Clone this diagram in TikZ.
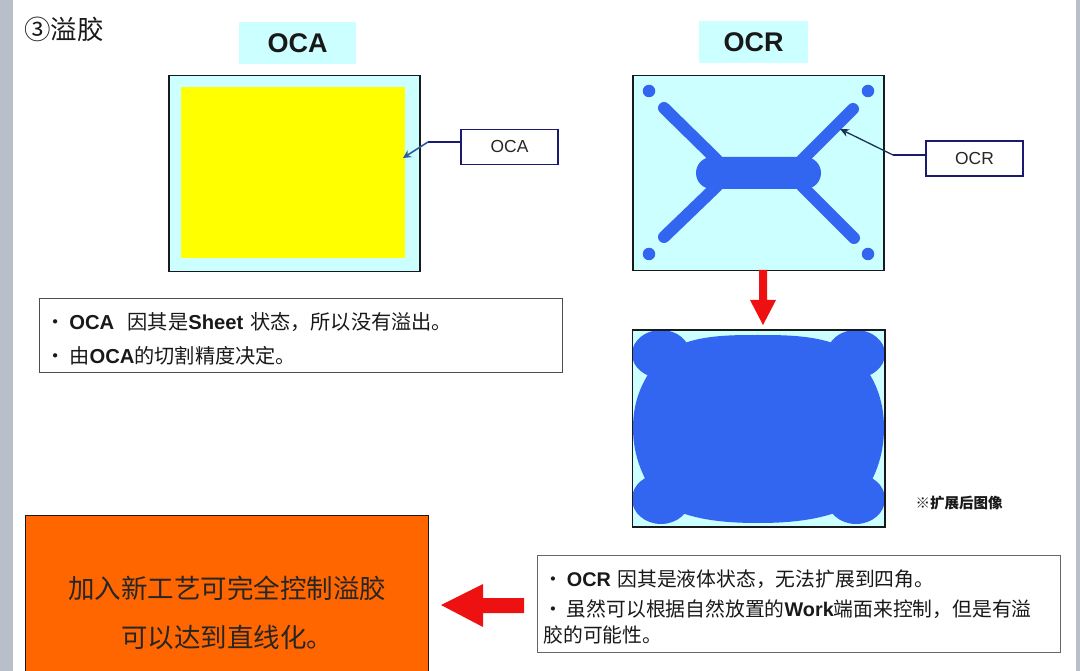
\documentclass[tikz,border=0pt]{standalone}
\usepackage{fontspec}
\setmainfont{Noto Sans CJK SC}
\newfontfamily\lat{Liberation Sans}
\usetikzlibrary{arrows.meta}
\definecolor{pale}{HTML}{CCFFFF}
\definecolor{glue}{HTML}{3366F0}
\definecolor{navy}{HTML}{1A1A70}
\definecolor{side}{HTML}{B9BECB}
\definecolor{orng}{HTML}{FF6600}
\definecolor{redd}{HTML}{EE1111}
\definecolor{yelo}{HTML}{FFFF00}
\definecolor{tipblue}{HTML}{2F5C96}
\newcommand{\B}[1]{{\lat\bfseries #1}}
\newcommand{\D}{·\hspace{-3pt} }
\tikzset{
 x=1pt,y=-1pt,
 header/.style={fill=pale,minimum width=#1,minimum height=42pt,inner sep=0pt,font=\lat\bfseries\fontsize{27}{30}\selectfont,text=black!90},
 frame/.style={draw=black!90,line width=1.5pt,fill=pale,minimum width=251pt,minimum height=195pt,inner sep=0pt},
 tag/.style={draw=navy,line width=1.4pt,fill=white,minimum width=97pt,minimum height=35pt,inner sep=0pt,font=\lat\fontsize{17.4}{19}\selectfont,text=black!85},
 note/.style={draw=black!70,line width=0.9pt,fill=white,minimum width=523pt,inner sep=0pt,align=left,anchor=north west,text width=511pt,text=black!90},
 lead/.style={line width=1.4pt,draw=navy},
 leadtip/.style={line width=1.6pt,draw=tipblue,-{Stealth[length=8pt,width=8pt]}},
 arm/.style={glue,line width=12pt,line cap=round},
 spot/.style={circle,fill=glue,minimum size=12.5pt,inner sep=0pt},
 bigarrow/.style={fill=redd,draw=none},
}
\begin{document}
\begin{tikzpicture}
\useasboundingbox (0,0) rectangle (1080,671);
\fill[white] (0,0) rectangle (1080,671);
\fill[side] (0,0) rectangle (13,671);
\fill[side] (1076,0) rectangle (1080,671);

\node[anchor=west,font=\fontsize{26.5}{30}\selectfont,text=black!90,inner sep=0pt] (title) at (24,29) {③溢胶};

\node[header=117pt] (hoca) at (297.5,43) {OCA};
\node[header=109pt] (hocr) at (753.5,42) {OCR};

% OCA panel
\node[frame,minimum height=196pt] (foca) at (294.5,173.5) {};
\node[fill=yelo,minimum width=224pt,minimum height=171pt,inner sep=0pt] (yel) at (293,172.5) {};
\node[tag] (toca) at (509.5,147) {OCA};
\coordinate (boca) at (428,142);
\coordinate (hitoca) at (403,158);
\draw[lead] (toca.west |- boca) -- (boca);
\draw[leadtip] (boca) -- (hitoca);

% OCR panel
\node[frame] (focr) at (758.5,173) {};
\draw[arm] (664,108) -- (717,160);
\draw[arm] (853,109) -- (802,160);
\draw[arm] (664,237) -- (717,186);
\draw[arm] (854,238) -- (802,186);
\node[fill=glue,rounded corners=16pt,minimum width=125pt,minimum height=32pt,inner sep=0pt] (bar) at (758.5,173) {};
\node[spot] (s1) at (649,91) {};
\node[spot] (s2) at (868,91) {};
\node[spot] (s3) at (649,254) {};
\node[spot] (s4) at (868,254) {};
\node[tag] (tocr) at (974.5,158.5) {OCR};
\coordinate (bocr) at (893,155);
\coordinate (hitocr) at (840,129);
\draw[lead] (tocr.west |- bocr) -- (bocr);
\draw[line width=1.3pt,draw=black!45!tipblue,-{Stealth[length=9pt,width=8pt]}] (bocr) -- (hitocr);

% red arrow down
\fill[bigarrow] (759,270) -- (767,270) -- (767,300) -- (776,300) -- (763,325) -- (750,300) -- (759,300) -- cycle;

% Expanded panel
\node[frame,draw=none,fill=pale] (fexp) at (758.5,428.5) {};
\begin{scope}
\clip (fexp.south west) rectangle (fexp.north east);
\fill[glue] (758,335) .. controls (790,335) and (835,335) .. (858,358)
  .. controls (875,378) and (884,400) .. (884,428)
  .. controls (884,456) and (875,480) .. (858,502)
  .. controls (830,520) and (790,523) .. (758,523)
  .. controls (725,523) and (686,520) .. (660,502)
  .. controls (643,480) and (633,456) .. (633,428)
  .. controls (633,400) and (643,378) .. (660,358)
  .. controls (683,335) and (725,335) .. cycle;
\fill[glue] (661,354) ellipse [x radius=29,y radius=24];
\fill[glue] (856,354) ellipse [x radius=29,y radius=24];
\fill[glue] (661,499) ellipse [x radius=29,y radius=25];
\fill[glue] (856,499) ellipse [x radius=29,y radius=25];
\end{scope}
\draw[black!90,line width=1.5pt] (fexp.south west) rectangle (fexp.north east);
\node[font=\bfseries\fontsize{14.5}{16}\selectfont,text=black!90] (after) at (959,503) {※扩展后图像};

% Text boxes
\node[note,minimum height=74pt,font=\fontsize{20.2}{26}\selectfont] (n1) at (39,298) {\rule{0pt}{0pt}\\[-3pt]\D\B{OCA} \ 因其是\B{Sheet} 状态，所以没有溢出。\\[8pt]\D 由\B{OCA}的切割精度决定。};
\node[note,draw=black!60,minimum height=97pt,font=\fontsize{19.8}{26}\selectfont] (n2) at (537,555) {\rule{0pt}{0pt}\\[-3pt]\D\B{OCR} 因其是液体状态，无法扩展到四角。\\[4pt]\D 虽然可以根据自然放置的\B{Work}端面来控制，但是有溢\\胶的可能性。};

% Orange box (runs off the page's lower edge)
\node[draw=black!90,line width=1.2pt,fill=orng,minimum width=403pt,minimum height=195pt,inner sep=0pt,anchor=north west,align=center,font=\fontsize{26.5}{49}\selectfont,text=black!85] (res) at (25,515) {加入新工艺可完全控制溢胶\\可以达到直线化。};

% left red arrow
\fill[bigarrow] (524,598) -- (524,613) -- (483,613) -- (483,627) -- (441,605) -- (483,584) -- (483,598) -- cycle;
\end{tikzpicture}
\end{document}
